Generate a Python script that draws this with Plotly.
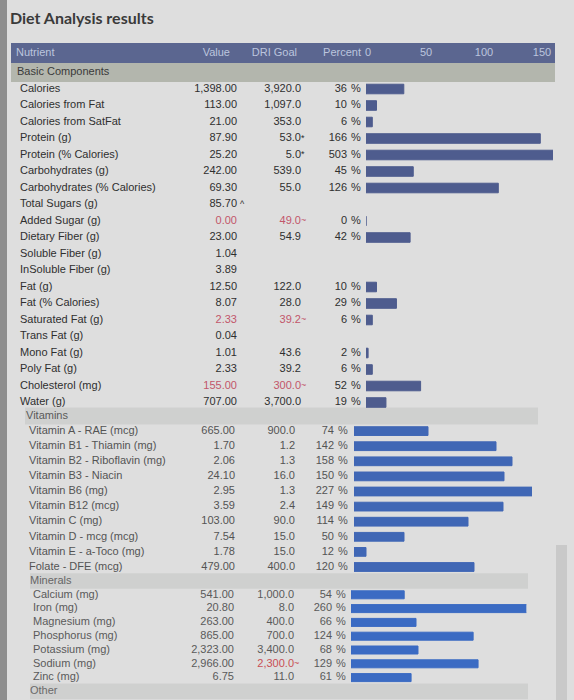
import plotly.graph_objects as go

W, H = 574, 700

# ------------------------------------------------------------------ data
title_text = "Diet Analysis results"
header_labels = ["Nutrient", "Value", "DRI Goal", "Percent"]
scale_ticks = [0, 50, 100, 150]

section_titles = ["Basic Components", "Vitamins", "Minerals"]
last_section = "Other"

basic_names = ["Calories", "Calories from Fat", "Calories from SatFat", "Protein (g)",
               "Protein (% Calories)", "Carbohydrates (g)", "Carbohydrates (% Calories)",
               "Total Sugars (g)", "Added Sugar (g)", "Dietary Fiber (g)", "Soluble Fiber (g)",
               "InSoluble Fiber (g)", "Fat (g)", "Fat (% Calories)", "Saturated Fat (g)",
               "Trans Fat (g)", "Mono Fat (g)", "Poly Fat (g)", "Cholesterol (mg)", "Water (g)"]
basic_values = [1398.00, 113.00, 21.00, 87.90, 25.20, 242.00, 69.30, 85.70, 0.00, 23.00,
                1.04, 3.89, 12.50, 8.07, 2.33, 0.04, 1.01, 2.33, 155.00, 707.00]
basic_value_mark = ["", "", "", "", "", "", "", "^", "", "", "", "", "", "", "", "", "", "", "", ""]
basic_dri = [3920.0, 1097.0, 353.0, 53.0, 5.0, 539.0, 55.0, None, 49.0, 54.9,
             None, None, 122.0, 28.0, 39.2, None, 43.6, 39.2, 300.0, 3700.0]
basic_dri_mark = ["", "", "", "*", "*", "", "", "", "~", "", "", "", "", "", "~", "", "", "", "~", ""]
basic_pct = [36, 10, 6, 166, 503, 45, 126, None, 0, 42,
             None, None, 10, 29, 6, None, 2, 6, 52, 19]
basic_value_red = [0, 0, 0, 0, 0, 0, 0, 0, 1, 0, 0, 0, 0, 0, 1, 0, 0, 0, 1, 0]
basic_dri_red = [0, 0, 0, 0, 0, 0, 0, 0, 1, 0, 0, 0, 0, 0, 1, 0, 0, 0, 1, 0]

vit_names = ["Vitamin A - RAE (mcg)", "Vitamin B1 - Thiamin (mg)", "Vitamin B2 - Riboflavin (mg)",
             "Vitamin B3 - Niacin", "Vitamin B6 (mg)", "Vitamin B12 (mcg)", "Vitamin C (mg)",
             "Vitamin D - mcg (mcg)", "Vitamin E - a-Toco (mg)", "Folate - DFE (mcg)"]
vit_values = [665.00, 1.70, 2.06, 24.10, 2.95, 3.59, 103.00, 7.54, 1.78, 479.00]
vit_value_mark = [""] * 10
vit_dri = [900.0, 1.2, 1.3, 16.0, 1.3, 2.4, 90.0, 15.0, 15.0, 400.0]
vit_dri_mark = [""] * 10
vit_pct = [74, 142, 158, 150, 227, 149, 114, 50, 12, 120]
vit_value_red = [0] * 10
vit_dri_red = [0] * 10

min_names = ["Calcium (mg)", "Iron (mg)", "Magnesium (mg)", "Phosphorus (mg)",
             "Potassium (mg)", "Sodium (mg)", "Zinc (mg)"]
min_values = [541.00, 20.80, 263.00, 865.00, 2323.00, 2966.00, 6.75]
min_value_mark = [""] * 7
min_dri = [1000.0, 8.0, 400.0, 700.0, 3400.0, 2300.0, 11.0]
min_dri_mark = ["", "", "", "", "", "~", ""]
min_pct = [54, 260, 66, 124, 68, 129, 61]
min_value_red = [0] * 7
min_dri_red = [0, 0, 0, 0, 0, 1, 0]

# ------------------------------------------------------------------ layout / style constants
FONT = "Liberation Sans, Arial, sans-serif"
FS = 11
BAR_CAP = 178          # percent range shown by the bar scale
HEADER_Y_PX = 53

sections = [
    dict(title=section_titles[0], names=basic_names, values=basic_values, vmark=basic_value_mark,
         dri=basic_dri, dmark=basic_dri_mark, pct=basic_pct, vred=basic_value_red, dred=basic_dri_red,
         c0=72.5, step=16.5, name_x=20, value_x=237, dri_x=301, pct_x=347, bar0=366, pxper=1.05,
         band=(11, 555), band_color="#b3b6ad", text="#2f2f2f", title_color="#3a3a3a",
         bar="#4e5c8e", red="#c2566a"),
    dict(title=section_titles[1], names=vit_names, values=vit_values, vmark=vit_value_mark,
         dri=vit_dri, dmark=vit_dri_mark, pct=vit_pct, vred=vit_value_red, dred=vit_dri_red,
         c0=416, step=15.1, name_x=29, value_x=235, dri_x=295, pct_x=334, bar0=354, pxper=1.0,
         band=(25, 538), band_color="#cfd0cf", text="#545454", title_color="#5a5a5a",
         bar="#4067b5", red="#c2566a"),
    dict(title=section_titles[2], names=min_names, values=min_values, vmark=min_value_mark,
         dri=min_dri, dmark=min_dri_mark, pct=min_pct, vred=min_value_red, dred=min_dri_red,
         c0=581, step=13.8, name_x=33, value_x=234, dri_x=294, pct_x=332, bar0=351, pxper=0.985,
         band=(30, 528), band_color="#cfd0cf", text="#5a5a5a", title_color="#666666",
         bar="#3b6bc3", red="#c94f55"),
]

fig = go.Figure()
layout_axes = {}
shapes = []


def txt(x, y, text, pos, color, xa, ya, size=FS):
    fig.add_trace(go.Scatter(x=x, y=y, text=text, mode="text", textposition=pos,
                             textfont=dict(family=FONT, size=size, color=color),
                             xaxis=xa, yaxis=ya, cliponaxis=False, hoverinfo="skip",
                             showlegend=False))


for k, s in enumerate(sections):
    yname = "y" if k == 0 else f"y{k + 1}"
    ykey = "yaxis" if k == 0 else f"yaxis{k + 1}"
    bx = f"x{k + 2}"
    bxkey = f"xaxis{k + 2}"
    layout_axes[ykey] = dict(range=[(H - s["c0"]) / s["step"], (0 - s["c0"]) / s["step"]],
                             domain=[0, 1], visible=False, fixedrange=True)
    layout_axes[bxkey] = dict(range=[0, BAR_CAP],
                              domain=[s["bar0"] / W, (s["bar0"] + BAR_CAP * s["pxper"]) / W],
                              visible=False, anchor=yname, fixedrange=True)

    n = len(s["names"])
    rows = list(range(1, n + 1))

    # section band + title
    shapes.append(dict(type="rect", xref="x", yref=yname, x0=s["band"][0], x1=s["band"][1],
                       y0=-0.57, y1=0.57, fillcolor=s["band_color"], line=dict(width=0),
                       layer="below"))
    txt([s["name_x"] - 3], [0], [s["title"]], "middle right", s["title_color"], "x", yname)

    # names
    txt([s["name_x"]] * n, rows, s["names"], "middle right", s["text"], "x", yname)

    # values
    vcol = [s["red"] if r else s["text"] for r in s["vred"]]
    txt([s["value_x"]] * n, rows, [f"{v:,.2f}" for v in s["values"]], "middle left", vcol, "x", yname)
    mk = [(i + 1, m) for i, m in enumerate(s["vmark"]) if m]
    if mk:
        txt([s["value_x"] + 3] * len(mk), [m[0] for m in mk], [m[1] for m in mk],
            "middle right", s["text"], "x", yname, size=9)

    # DRI goals
    dri_rows = [i + 1 for i, d in enumerate(s["dri"]) if d is not None]
    dri_txt = [f"{d:,.1f}" for d in s["dri"] if d is not None]
    dcol = [s["red"] if s["dred"][i] else s["text"] for i, d in enumerate(s["dri"]) if d is not None]
    txt([s["dri_x"]] * len(dri_rows), dri_rows, dri_txt, "middle left", dcol, "x", yname)
    dm = [(i + 1, m, s["red"] if s["dred"][i] else s["text"]) for i, m in enumerate(s["dmark"]) if m]
    if dm:
        txt([s["dri_x"]] * len(dm), [m[0] for m in dm], [m[1] for m in dm],
            "middle right", [m[2] for m in dm], "x", yname, size=9)

    # percent text
    p_rows = [i + 1 for i, p in enumerate(s["pct"]) if p is not None]
    p_vals = [p for p in s["pct"] if p is not None]
    txt([s["pct_x"]] * len(p_rows), p_rows, [str(p) for p in p_vals], "middle left", s["text"], "x", yname)
    txt([s["pct_x"] + 4] * len(p_rows), p_rows, ["%"] * len(p_rows), "middle right", s["text"], "x", yname)

    # bars
    fig.add_trace(go.Bar(x=p_vals, y=p_rows, orientation="h", base=0, width=0.58,
                         marker=dict(color=s["bar"], line=dict(color=s["bar"], width=1)),
                         xaxis=bx, yaxis=yname, hoverinfo="skip", showlegend=False))

# "Other" section band at end of minerals block
s3 = sections[2]
other_row = len(s3["names"]) + 1
shapes.append(dict(type="rect", xref="x", yref="y3", x0=s3["band"][0], x1=s3["band"][1],
                   y0=other_row - 0.57, y1=other_row + 0.57, fillcolor=s3["band_color"],
                   line=dict(width=0), layer="below"))
txt([s3["name_x"] - 3], [other_row], [last_section], "middle right", "#6a6a6a", "x", "y3")

# header row
s1 = sections[0]
hy = (HEADER_Y_PX - s1["c0"]) / s1["step"]
shapes.append(dict(type="rect", xref="x", yref="paper", x0=11, x1=555,
                   y0=1 - 63 / H, y1=1 - 43 / H, fillcolor="#5b6690", line=dict(width=0),
                   layer="below"))
HEAD_COLOR = "#bcc5de"
txt([16], [hy], [header_labels[0]], "middle right", HEAD_COLOR, "x", "y")
txt([230], [hy], [header_labels[1]], "middle left", HEAD_COLOR, "x", "y")
txt([297], [hy], [header_labels[2]], "middle left", HEAD_COLOR, "x", "y")
txt([361], [hy], [header_labels[3]], "middle left", HEAD_COLOR, "x", "y")
layout_axes["xaxis5"] = dict(range=[0, 150], domain=[368 / W, 542 / W], visible=False,
                             anchor="y", fixedrange=True)
fig.add_trace(go.Scatter(x=scale_ticks, y=[hy] * len(scale_ticks), text=[str(t) for t in scale_ticks],
                         mode="text", textposition="middle center",
                         textfont=dict(family=FONT, size=FS, color=HEAD_COLOR),
                         xaxis="x5", yaxis="y", cliponaxis=False, hoverinfo="skip", showlegend=False))

# photo edges (monitor bezel at left, scrollbar at right)
shapes.append(dict(type="rect", xref="x", yref="paper", x0=0, x1=7, y0=0, y1=1,
                   fillcolor="#8e8e8e", line=dict(width=0), layer="below"))
shapes.append(dict(type="rect", xref="x", yref="paper", x0=556, x1=567, y0=0, y1=1 - 545 / H,
                   fillcolor="#c9c9c9", line=dict(width=0), layer="below"))

fig.update_layout(
    width=W, height=H, margin=dict(l=0, r=0, t=0, b=0),
    paper_bgcolor="#dedede", plot_bgcolor="rgba(0,0,0,0)",
    xaxis=dict(range=[0, W], domain=[0, 1], visible=False, fixedrange=True),
    shapes=shapes, barmode="overlay", hovermode=False, showlegend=False,
    annotations=[dict(text=f"<b>{title_text}</b>", xref="x", yref="paper", x=8, y=1 - 18 / H,
                      xanchor="left", yanchor="middle", showarrow=False,
                      font=dict(family="Lato, Liberation Sans, sans-serif", size=16, color="#3a3a3a"))],
    **layout_axes,
)

fig.write_html("out.html", config={"displayModeBar": False},
               post_script="document.body.style.margin='0';document.body.style.background='#dedede';")
